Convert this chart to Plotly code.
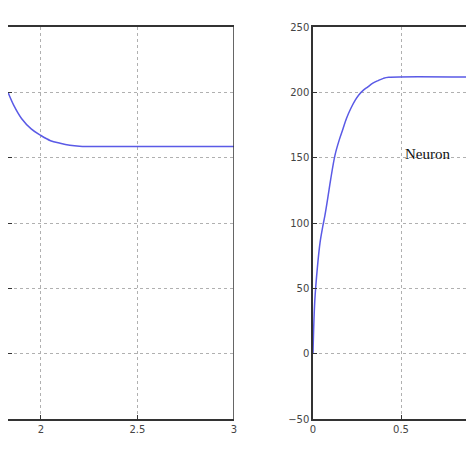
import plotly.graph_objects as go
from plotly.subplots import make_subplots

# left panel (only the tail visible in the crop)
left_t = [1.83, 1.86, 1.9, 1.95, 2.0, 2.05, 2.1, 2.15, 2.2, 2.25, 3.0]
left_y = [200, 190, 180, 172, 167, 163, 161, 159.5, 158.7, 158.5, 158.5]

# right panel (neuron response)
right_t = [0, 0.01, 0.025, 0.04, 0.055, 0.068, 0.085, 0.1, 0.125, 0.15, 0.17,
           0.19, 0.216, 0.24, 0.26, 0.285, 0.31, 0.34, 0.37, 0.4, 0.43, 0.96]
right_y = [0, 40, 66, 85, 97, 106, 120, 133, 152, 164, 172,
           180, 188, 194, 198, 201.5, 204, 207, 209, 210.7, 211.5, 211.5]

LINE = "#5a5ae6"
GRID = "#b0b0b0"

fig = make_subplots(rows=1, cols=2)
fig.add_trace(go.Scatter(x=left_t, y=left_y, mode="lines", line_shape="spline",
                         line=dict(color=LINE, width=1.5)), row=1, col=1)
fig.add_trace(go.Scatter(x=right_t, y=right_y, mode="lines", line_shape="spline",
                         line=dict(color=LINE, width=1.5)), row=1, col=2)

ydom = [63 / 474, 455 / 474]
axis_font = dict(family="DejaVu Sans", size=10, color="#444")
common = dict(showgrid=True, gridcolor=GRID, griddash="dot", gridwidth=1,
              zeroline=False, ticks="inside", ticklen=4, tickcolor="#333",
              tickfont=axis_font, linecolor="#333", linewidth=1.5)

fig.update_layout(
    width=474, height=474, showlegend=False,
    margin=dict(l=0, r=0, t=0, b=0, autoexpand=False),
    paper_bgcolor="white", plot_bgcolor="white",
    xaxis=dict(domain=[0, 226 / 474], range=[1.83, 3], tickvals=[2, 2.5, 3],
               ticktext=["2", "2.5", "3"], showline=True, mirror=True, **common),
    yaxis=dict(domain=ydom, range=[-50, 250], dtick=50, showticklabels=False,
               showline=False, **common),
    xaxis2=dict(domain=[305 / 474, 1], range=[0, 0.96], tickvals=[0, 0.5],
                ticktext=["0", "0.5"], showline=True, mirror=True, **common),
    yaxis2=dict(domain=ydom, range=[-50, 250], dtick=50, showline=True,
                mirror=False, **common),
)
# right border of the left panel
fig.add_shape(type="line", xref="x", yref="y domain", x0=3, x1=3, y0=0, y1=1,
              line=dict(color="#333", width=1.5))
fig.add_annotation(x=0.51, y=153, xref="x2", yref="y2", text="Neuron",
                   showarrow=False, xanchor="left",
                   font=dict(family="Liberation Serif", size=15, color="#111"))

fig.write_html("out.html")
